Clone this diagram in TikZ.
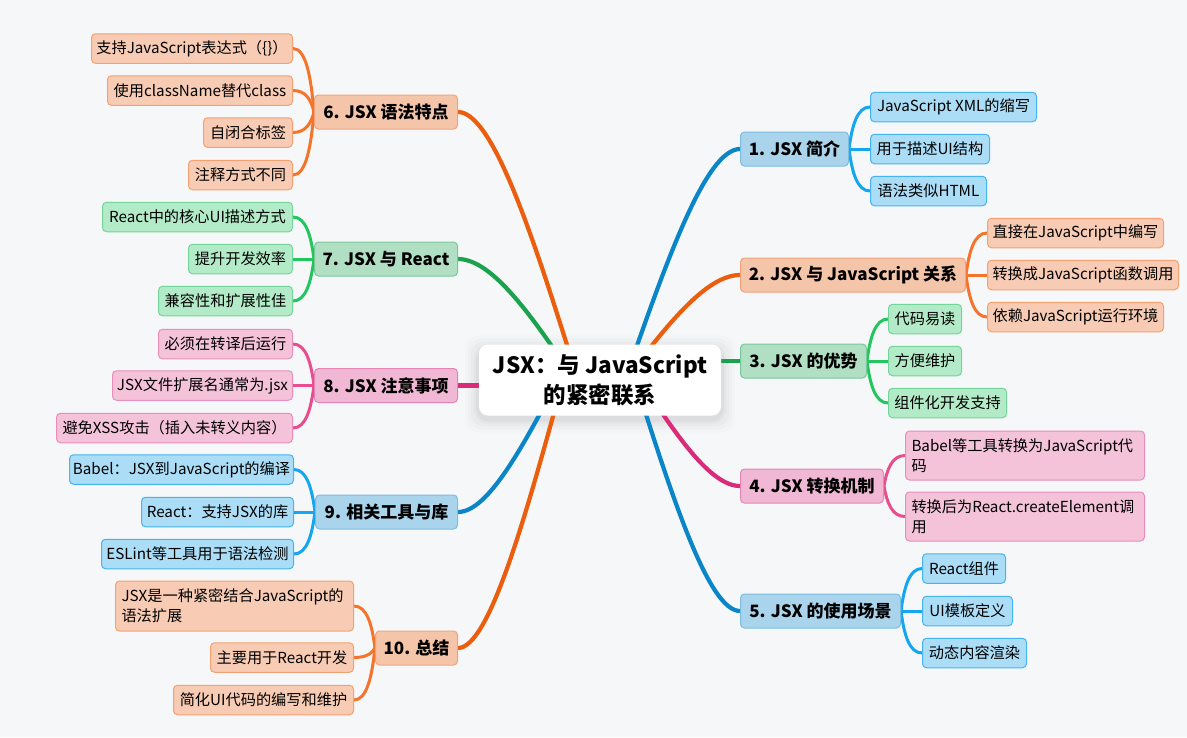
\documentclass[tikz,border=0pt]{standalone}
\usepackage{fontspec}
\setmainfont{Noto Sans CJK SC}
\usetikzlibrary{calc}
\pgfdeclarelayer{back}
\pgfdeclarelayer{lines}
\pgfsetlayers{back,lines,main}
\definecolor{bgc}{HTML}{F6F7F9}
\definecolor{blueM}{HTML}{A9D4EC}\definecolor{blueMb}{HTML}{7BBDE3}
\definecolor{orangeM}{HTML}{F5C5AA}\definecolor{orangeMb}{HTML}{F2A37A}
\definecolor{greenM}{HTML}{B0DFC3}\definecolor{greenMb}{HTML}{78C898}
\definecolor{pinkM}{HTML}{F0B8D4}\definecolor{pinkMb}{HTML}{E585B5}
\definecolor{blueL}{HTML}{ABDDF7}\definecolor{blueLb}{HTML}{45B4F0}
\definecolor{orangeL}{HTML}{F8CCB4}\definecolor{orangeLb}{HTML}{F5A070}
\definecolor{greenL}{HTML}{B3EBC8}\definecolor{greenLb}{HTML}{74D59A}
\definecolor{pinkL}{HTML}{F4C3DA}\definecolor{pinkLb}{HTML}{EA8DBA}
\definecolor{blueML}{HTML}{0A86C8}\definecolor{orangeML}{HTML}{EB5E0E}
\definecolor{greenML}{HTML}{1BA24C}\definecolor{pinkML}{HTML}{DA2B7A}
\definecolor{blueLL}{HTML}{14A6EF}\definecolor{orangeLL}{HTML}{F4742C}
\definecolor{greenLL}{HTML}{23C55F}\definecolor{pinkLL}{HTML}{E84E8E}
\begin{document}
\begin{tikzpicture}[x=1pt,y=-1pt,
  cnode/.style={fill=white, rounded corners=9pt, minimum width=242pt, minimum height=71pt, inner sep=0pt, align=center, font=\fontsize{22.5}{30}\selectfont\bfseries},
  mainbox/.style={rounded corners=4pt, line width=1pt, minimum height=34pt, inner sep=0pt, font=\fontsize{17}{20}\selectfont\bfseries},
  mainR/.style={mainbox, anchor=west},
  mainL/.style={mainbox, anchor=east},
  leafbox/.style={rounded corners=4pt, line width=1pt, minimum height=29.5pt, inner sep=0pt, font=\fontsize{15.2}{20}\selectfont},
  leafR/.style={leafbox, anchor=west},
  leafL/.style={leafbox, anchor=east},
  mblue/.style={fill=blueM, draw=blueMb}, morange/.style={fill=orangeM, draw=orangeMb},
  mgreen/.style={fill=greenM, draw=greenMb}, mpink/.style={fill=pinkM, draw=pinkMb},
  lblue/.style={fill=blueL, draw=blueLb}, lorange/.style={fill=orangeL, draw=orangeLb},
  lgreen/.style={fill=greenL, draw=greenLb}, lpink/.style={fill=pinkL, draw=pinkLb},
  mline/.style={line width=4.2pt, line cap=round},
  lline/.style={line width=3pt, line cap=round}]

\begin{pgfonlayer}{back}
\fill[bgc] (0,0) rectangle (1187,737);
\end{pgfonlayer}
\useasboundingbox (0,0) rectangle (1187,737);

% center
\node[cnode] (c) at (600,380) {JSX：与 JavaScript\\的紧密联系};
\begin{pgfonlayer}{back}
\foreach \e/\o in {14/0.012,11/0.015,8/0.02,5/0.025,3/0.03}
  \fill[black, opacity=\o, rounded corners=14pt] ($(c.south west)+(-\e,\e+3)$) rectangle ($(c.north east)+(\e,-\e+5)$);
\end{pgfonlayer}

% main nodes right
\node[mainR, mblue,   minimum width=108pt] (m1) at (740,149)   {1. JSX 简介};
\node[mainR, morange, minimum width=225pt] (m2) at (740,275)   {2. JSX 与 JavaScript 关系};
\node[mainR, mgreen,  minimum width=126pt] (m3) at (740,361)   {3. JSX 的优势};
\node[mainR, mpink,   minimum width=143pt] (m4) at (740,486)   {4. JSX 转换机制};
\node[mainR, mblue,   minimum width=160pt] (m5) at (740,611)   {5. JSX 的使用场景};
% main nodes left
\node[mainL, morange, minimum width=143pt] (m6) at (458,112)   {6. JSX 语法特点};
\node[mainL, mgreen,  minimum width=143pt] (m7) at (458,259)   {7. JSX 与 React};
\node[mainL, mpink,   minimum width=143pt] (m8) at (458,385.5) {8. JSX 注意事项};
\node[mainL, mblue,   minimum width=142pt] (m9) at (458,512)   {9. 相关工具与库};
\node[mainL, morange, minimum width=82pt]  (m10) at (458,648)  {10. 总结};

% leaves right
\node[leafR, lblue, minimum width=166pt] (l1a) at (870,107) {JavaScript XML的缩写};
\node[leafR, lblue, minimum width=119pt] (l1b) at (870,149) {用于描述UI结构};
\node[leafR, lblue, minimum width=116pt] (l1c) at (870,191) {语法类似HTML};
\node[leafR, lorange, minimum width=176pt] (l2a) at (987,233) {直接在JavaScript中编写};
\node[leafR, lorange, minimum width=191pt] (l2b) at (987,275) {转换成JavaScript函数调用};
\node[leafR, lorange, minimum width=176pt] (l2c) at (987,317) {依赖JavaScript运行环境};
\node[leafR, lgreen, minimum width=73pt] (l3a) at (888,319) {代码易读};
\node[leafR, lgreen, minimum width=73pt] (l3b) at (888,361) {方便维护};
\node[leafR, lgreen, minimum width=118pt] (l3c) at (888,403) {组件化开发支持};
\node[leafR, lpink, minimum width=239pt, minimum height=49pt, align=left, text width=227pt] (l4a) at (905,455.5) {Babel等工具转换为JavaScript代\\码};
\node[leafR, lpink, minimum width=239pt, minimum height=49pt, align=left, text width=227pt] (l4b) at (905,516.5) {转换后为React.createElement调\\用};
\node[leafR, lblue, minimum width=83pt] (l5a) at (922,568.5) {React组件};
\node[leafR, lblue, minimum width=90pt] (l5b) at (922,611) {UI模板定义};
\node[leafR, lblue, minimum width=104pt] (l5c) at (922,653) {动态内容渲染};

% leaves left
\node[leafL, lorange, minimum width=201pt] (l6a) at (293,48.5) {支持JavaScript表达式（\{\}）};
\node[leafL, lorange, minimum width=185pt] (l6b) at (293,90.5) {使用className替代class};
\node[leafL, lorange, minimum width=89pt] (l6c) at (293,132.5) {自闭合标签};
\node[leafL, lorange, minimum width=104pt] (l6d) at (293,175) {注释方式不同};
\node[leafL, lgreen, minimum width=190pt] (l7a) at (293,217) {React中的核心UI描述方式};
\node[leafL, lgreen, minimum width=104pt] (l7b) at (293,259) {提升开发效率};
\node[leafL, lgreen, minimum width=134pt] (l7c) at (293,301) {兼容性和扩展性佳};
\node[leafL, lpink, minimum width=134pt] (l8a) at (293,344) {必须在转译后运行};
\node[leafL, lpink, minimum width=180pt] (l8b) at (293,385.5) {JSX文件扩展名通常为.jsx};
\node[leafL, lpink, minimum width=236pt] (l8c) at (293,428) {避免XSS攻击（插入未转义内容）};
\node[leafL, lblue, minimum width=224pt] (l9a) at (294,469.5) {Babel：JSX到JavaScript的编译};
\node[leafL, lblue, minimum width=152pt] (l9b) at (294,512) {React：支持JSX的库};
\node[leafL, lblue, minimum width=192pt] (l9c) at (294,554) {ESLint等工具用于语法检测};
\node[leafL, lorange, minimum width=238pt, minimum height=50pt, align=left, text width=226pt] (l10a) at (354,606) {JSX是一种紧密结合JavaScript的\\语法扩展};
\node[leafL, lorange, minimum width=143pt] (l10b) at (354,657.5) {主要用于React开发};
\node[leafL, lorange, minimum width=180pt] (l10c) at (354,700) {简化UI代码的编写和维护};

\begin{pgfonlayer}{lines}
% main connectors
\coordinate (s1) at (625,380);
\coordinate (s2) at (625,380);
\coordinate (s3) at (620,361);
\coordinate (s4) at (640,380);
\coordinate (s5) at (635,380);
\coordinate (s6) at (578,380);
\coordinate (s7) at (575,380);
\coordinate (s8) at (580,385.5);
\coordinate (s9) at (558,380);
\coordinate (s10) at (563,380);
\draw[mline, blueML]   (s1) .. controls +(40.25,-115.5) and +(-34.5,0) .. (m1.west);
\draw[mline, orangeML] (s2) .. controls +(40.25,-52.5) and +(-34.5,0) .. (m2.west);
\draw[mline, greenML]  (s3) -- (m3.west);
\draw[mline, pinkML]   (s4) .. controls +(35,53) and +(-30,0) .. (m4.west);
\draw[mline, blueML]   (s5) .. controls +(36.75,115.5) and +(-31.5,0) .. (m5.west);
\draw[mline, orangeML] (s6) .. controls +(-42,-134) and +(36,0) .. (m6.east);
\draw[mline, greenML]  (s7) .. controls +(-40.95,-60.5) and +(35.1,0) .. (m7.east);
\draw[mline, pinkML]   (s8) -- (m8.east);
\draw[mline, blueML]   (s9) .. controls +(-35,66) and +(30,0) .. (m9.east);
\draw[mline, orangeML] (s10) .. controls +(-36.75,134) and +(31.5,0) .. (m10.east);

% leaf connectors right
\draw[lline, blueLL] (m1.east) .. controls +(3,-23) and +(-13,0) .. (l1a.west);
\draw[lline, blueLL] (m1.east) -- (l1b.west);
\draw[lline, blueLL] (m1.east) .. controls +(3,23) and +(-13,0) .. (l1c.west);
\draw[lline, orangeLL] (m2.east) .. controls +(3,-23) and +(-13,0) .. (l2a.west);
\draw[lline, orangeLL] (m2.east) -- (l2b.west);
\draw[lline, orangeLL] (m2.east) .. controls +(3,23) and +(-13,0) .. (l2c.west);
\draw[lline, greenLL] (m3.east) .. controls +(3,-23) and +(-13,0) .. (l3a.west);
\draw[lline, greenLL] (m3.east) -- (l3b.west);
\draw[lline, greenLL] (m3.east) .. controls +(3,23) and +(-13,0) .. (l3c.west);
\draw[lline, pinkLL] (m4.east) .. controls +(3,-17) and +(-13,0) .. (l4a.west);
\draw[lline, pinkLL] (m4.east) .. controls +(3,17) and +(-13,0) .. (l4b.west);
\draw[lline, blueLL] (m5.east) .. controls +(3,-23) and +(-13,0) .. (l5a.west);
\draw[lline, blueLL] (m5.east) -- (l5b.west);
\draw[lline, blueLL] (m5.east) .. controls +(3,23) and +(-13,0) .. (l5c.west);
% leaf connectors left
\draw[lline, orangeLL] (m6.west) .. controls +(-3,-35) and +(13,0) .. (l6a.east);
\draw[lline, orangeLL] (m6.west) .. controls +(-3,-12) and +(13,0) .. (l6b.east);
\draw[lline, orangeLL] (m6.west) .. controls +(-3,11) and +(13,0) .. (l6c.east);
\draw[lline, orangeLL] (m6.west) .. controls +(-3,35) and +(13,0) .. (l6d.east);
\draw[lline, greenLL] (m7.west) .. controls +(-3,-23) and +(13,0) .. (l7a.east);
\draw[lline, greenLL] (m7.west) -- (l7b.east);
\draw[lline, greenLL] (m7.west) .. controls +(-3,23) and +(13,0) .. (l7c.east);
\draw[lline, pinkLL] (m8.west) .. controls +(-3,-23) and +(13,0) .. (l8a.east);
\draw[lline, pinkLL] (m8.west) -- (l8b.east);
\draw[lline, pinkLL] (m8.west) .. controls +(-3,23) and +(13,0) .. (l8c.east);
\draw[lline, blueLL] (m9.west) .. controls +(-3,-23) and +(13,0) .. (l9a.east);
\draw[lline, blueLL] (m9.west) -- (l9b.east);
\draw[lline, blueLL] (m9.west) .. controls +(-3,23) and +(13,0) .. (l9c.east);
\draw[lline, orangeLL] (m10.west) .. controls +(-3,-23) and +(13,0) .. (l10a.east);
\draw[lline, orangeLL] (m10.west) .. controls +(-3,5) and +(13,0) .. (l10b.east);
\draw[lline, orangeLL] (m10.west) .. controls +(-3,28) and +(13,0) .. (l10c.east);
\end{pgfonlayer}
\end{tikzpicture}
\end{document}
